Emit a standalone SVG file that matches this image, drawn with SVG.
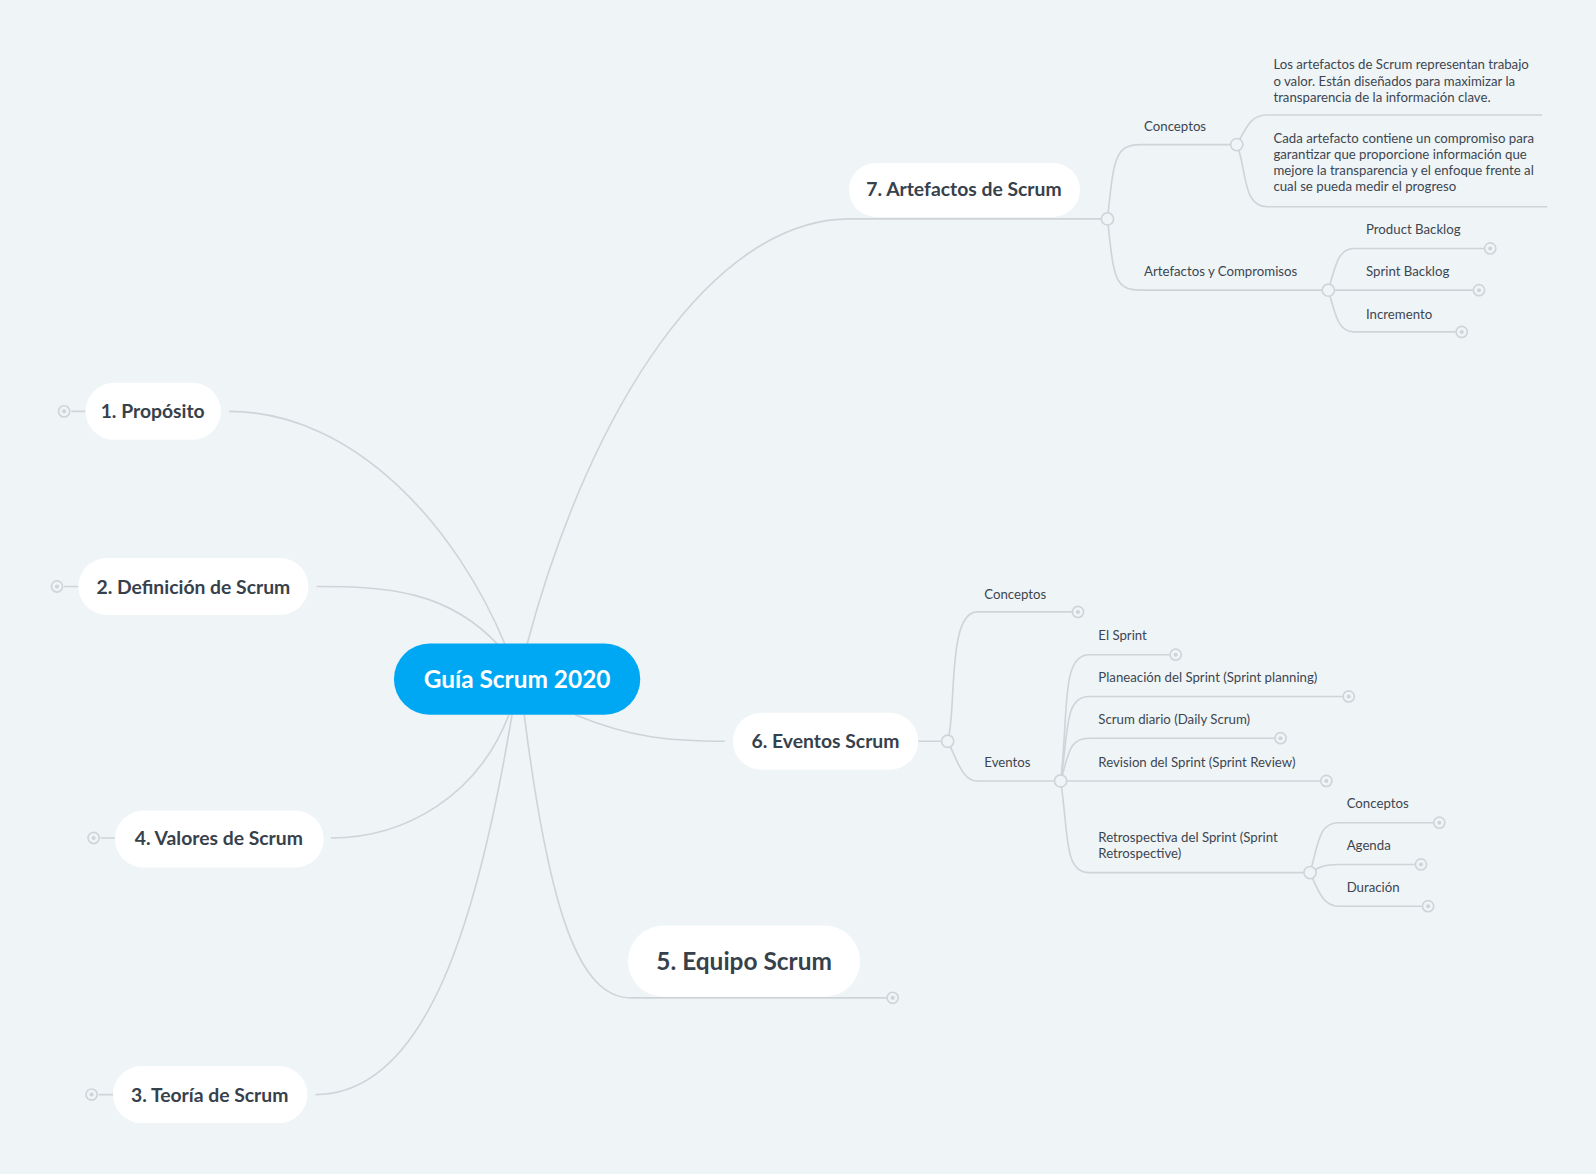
<svg xmlns="http://www.w3.org/2000/svg" width="1596" height="1174" viewBox="0 0 1596 1174">
<style>
.bg{fill:#eff4f7}
.n{fill:#fff}
.t{font-family:Lato,"Liberation Sans",sans-serif;font-weight:bold;font-size:19px;fill:#37414b;text-anchor:middle}
.l{font-family:Lato,"Liberation Sans",sans-serif;font-size:13px;fill:#3d4650}
.c{fill:none;stroke:#d0d4d8;stroke-width:1.6}
.o{fill:#eff4f7;stroke:#d0d4d8;stroke-width:1.6}
.d{fill:#d0d4d8}
</style>
<defs>
<g id="leaf"><circle r="5.5" class="o"/><circle r="2" class="d"/></g>
</defs>
<rect class="bg" width="1596" height="1174"/>
<g transform="scale(1.0179,1.0182)">
<g id="connectors">
<path class="c" d="M497,635 C450,520 350,404 225,404"/>
<path class="c" d="M490,634 C440,580 380,576 311,576"/>
<path class="c" d="M500,702 C470,780 400,823 325,823"/>
<path class="c" d="M503,702 C470,900 420,1075 310,1075"/>
<path class="c" d="M515,702 C540,900 570,980 620,980 L871,980"/>
<path class="c" d="M565,702 C620,725 660,728 712,728 M902,728 L925,728"/>
<path class="c" d="M518,632 C580,400 700,215 835,215 L1082,215"/>
<path class="c" d="M70,404 L84,404 M63,576 L77,576 M99,823 L113,823 M97,1075 L111,1075"/>
<!-- branch 7 -->
<path class="c" d="M1088,215 C1094,160 1094,142 1120,142 L1209,142"/>
<path class="c" d="M1088,215 C1094,270 1094,285 1120,285 L1299,285"/>
<path class="c" d="M1215,142 C1225,125 1228,113 1245,113 L1515,113"/>
<path class="c" d="M1215,142 C1225,165 1220,203 1245,203 L1520,203"/>
<path class="c" d="M1305,285 C1312,260 1315,244 1330,244 L1458,244"/>
<path class="c" d="M1305,285 L1447,285"/>
<path class="c" d="M1305,285 C1312,310 1315,326 1330,326 L1430,326"/>
<!-- branch 6 -->
<path class="c" d="M931,728 C940,700 930,601 960,601 L1053,601"/>
<path class="c" d="M931,728 C940,745 945,767 960,767 L1036,767"/>
<path class="c" d="M1042,767 C1050,700 1042,643 1070,643 L1149,643"/>
<path class="c" d="M1042,767 C1050,720 1045,684 1070,684 L1319,684"/>
<path class="c" d="M1042,767 C1050,740 1050,725 1070,725 L1252,725"/>
<path class="c" d="M1042,767 L1297,767"/>
<path class="c" d="M1042,767 C1050,820 1045,857 1070,857 L1281,857"/>
<path class="c" d="M1287,857 C1295,830 1295,808 1315,808 L1408,808"/>
<path class="c" d="M1287,857 C1295,852 1300,849 1315,849 L1390,849"/>
<path class="c" d="M1287,857 C1295,875 1300,890 1315,890 L1397,890"/>
</g>
<g id="circles">
<circle cx="931" cy="728" r="6" class="o"/>
<circle cx="1088" cy="215" r="6" class="o"/>
<circle cx="1215" cy="142" r="6" class="o"/>
<circle cx="1305" cy="285" r="6" class="o"/>
<circle cx="1042" cy="767" r="6" class="o"/>
<circle cx="1287" cy="857" r="6" class="o"/>
<use href="#leaf" x="63" y="404"/><use href="#leaf" x="56" y="576"/>
<use href="#leaf" x="92" y="823"/><use href="#leaf" x="90" y="1075"/>
<use href="#leaf" x="877" y="980"/>
<use href="#leaf" x="1464" y="244"/><use href="#leaf" x="1453" y="285"/><use href="#leaf" x="1436" y="326"/>
<use href="#leaf" x="1059" y="601"/><use href="#leaf" x="1155" y="643"/><use href="#leaf" x="1325" y="684"/>
<use href="#leaf" x="1258" y="725"/><use href="#leaf" x="1303" y="767"/>
<use href="#leaf" x="1414" y="808"/><use href="#leaf" x="1396" y="849"/><use href="#leaf" x="1403" y="890"/>
</g>
<g id="root"><rect x="387" y="632" width="242" height="70" rx="35" fill="#00a8f3"/><text x="508" y="676" class="t" style="fill:#fff;font-size:24px">Guía Scrum 2020</text></g>
<g id="n1"><rect class="n" x="84" y="376" width="133" height="56" rx="28"/><text x="150" y="411" class="t">1. Propósito</text></g>
<g id="n2"><rect class="n" x="77" y="548" width="226" height="56" rx="28"/><text x="190" y="583" class="t">2. Definición de Scrum</text></g>
<g id="n4"><rect class="n" x="113" y="796" width="205" height="56" rx="28"/><text x="215" y="830" class="t">4. Valores de Scrum</text></g>
<g id="n3"><rect class="n" x="111" y="1047" width="191" height="56" rx="28"/><text x="206" y="1082" class="t">3. Teoría de Scrum</text></g>
<g id="n5"><rect class="n" x="617" y="909" width="228" height="70" rx="35"/><text x="731" y="953" class="t" style="font-size:24px">5. Equipo Scrum</text></g>
<g id="n6"><rect class="n" x="720" y="700" width="182" height="56" rx="28"/><text x="811" y="735" class="t">6. Eventos Scrum</text></g>
<g id="n7"><rect class="n" x="834" y="160" width="227" height="53" rx="26.5"/><text x="947" y="193" class="t">7. Artefactos de Scrum</text></g>
<g id="labels7">
<text class="l" x="1124" y="129">Conceptos</text>
<text class="l" x="1124" y="271">Artefactos y Compromisos</text>
<text class="l" x="1251" y="68">Los artefactos de Scrum representan trabajo</text>
<text class="l" x="1251" y="84">o valor. Están diseñados para maximizar la</text>
<text class="l" x="1251" y="100">transparencia de la información clave.</text>
<text class="l" x="1251" y="140">Cada artefacto contiene un compromiso para</text>
<text class="l" x="1251" y="156">garantizar que proporcione información que</text>
<text class="l" x="1251" y="172">mejore la transparencia y el enfoque frente al</text>
<text class="l" x="1251" y="188">cual se pueda medir el progreso</text>
<text class="l" x="1342" y="230">Product Backlog</text>
<text class="l" x="1342" y="271">Sprint Backlog</text>
<text class="l" x="1342" y="313">Incremento</text>
</g>
<g id="labels6">
<text class="l" x="967" y="588">Conceptos</text>
<text class="l" x="967" y="753">Eventos</text>
<text class="l" x="1079" y="629">El Sprint</text>
<text class="l" x="1079" y="670">Planeación del Sprint (Sprint planning)</text>
<text class="l" x="1079" y="711">Scrum diario (Daily Scrum)</text>
<text class="l" x="1079" y="753">Revision del Sprint (Sprint Review)</text>
<text class="l" x="1079" y="827">Retrospectiva del Sprint (Sprint</text>
<text class="l" x="1079" y="843">Retrospective)</text>
<text class="l" x="1323" y="794">Conceptos</text>
<text class="l" x="1323" y="835">Agenda</text>
<text class="l" x="1323" y="876">Duración</text>
</g>
</g>
</svg>
